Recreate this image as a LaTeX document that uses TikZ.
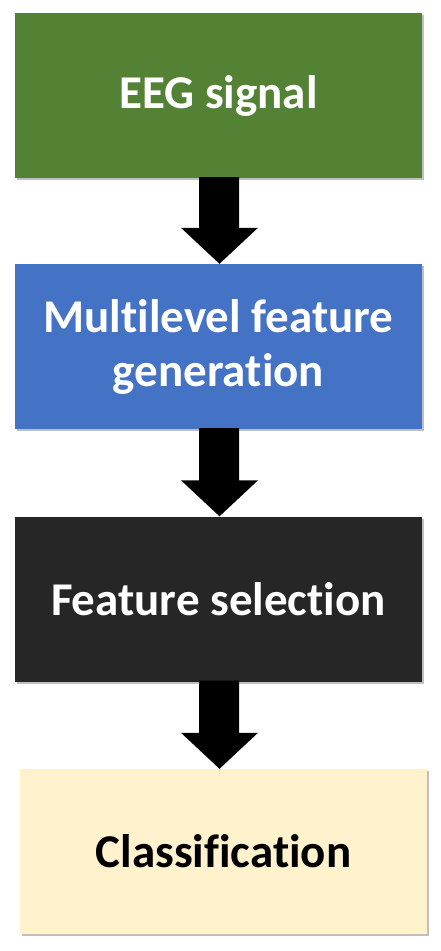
\documentclass[tikz,border=0pt]{standalone}
\usepackage{fontspec}
\setmainfont{Carlito}[Ligatures=NoCommon]
\usetikzlibrary{shadows,calc}
\definecolor{cgreen}{HTML}{548235}
\definecolor{cblue}{HTML}{4472C4}
\definecolor{cdark}{HTML}{262626}
\definecolor{ccream}{HTML}{FFF2CC}
\begin{document}
\begin{tikzpicture}[x=1pt,y=-1pt,
  stepbox/.style={rectangle, minimum width=407pt, minimum height=165pt, inner sep=0pt,
    align=center, font=\fontsize{47}{54}\selectfont\bfseries,
    drop shadow={shadow xshift=1.5pt, shadow yshift=-2pt, fill=black, opacity=0.25}},
  bigarrow/.style={fill=black}]
\useasboundingbox (0,0) rectangle (441,951);
\fill[white] (0,0) rectangle (441,951);
\node[stepbox, fill=cgreen, text=white] (a) at (218.5,95.5) {EEG signal};
\node[stepbox, fill=cblue, text=white] (b) at (218.5,346.5) {Multilevel feature\\generation};
\node[stepbox, fill=cdark, text=white] (c) at (218.5,599) {Feature selection};
\node[stepbox, fill=ccream, text=black] (d) at (223.5,851.5) {Classification};
\foreach \s/\t in {a/b,b/c,c/d}{
  \fill[bigarrow] ($(\s.south)+(-19.5,-1)$) -- ($(\s.south)+(20.5,-1)$)
    -- ($(\s.south |- \t.north)+(20.5,-36)$) -- ($(\s.south |- \t.north)+(39.5,-36)$)
    -- ($(\s.south |- \t.north)+(1,0)$)
    -- ($(\s.south |- \t.north)+(-37.5,-36)$) -- ($(\s.south |- \t.north)+(-19.5,-36)$) -- cycle;
}
\end{tikzpicture}
\end{document}
